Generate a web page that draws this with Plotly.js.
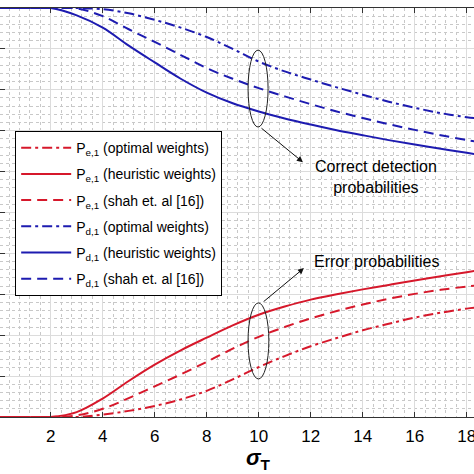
<!DOCTYPE html>
<html>
<head>
<meta charset="utf-8">
<script src="https://cdn.plot.ly/plotly-3.0.1.min.js"></script>
<style>html,body{margin:0;padding:0;background:#fff;}#chart{width:474px;height:474px;}</style>
</head>
<body>
<div id="chart"></div>
<script>
// sigma_T values
const sigmaT = [0,1,2,3,4,5,6,7,8,9,10,11,12,13,14,15,16,17,18,18.3];
// Error probabilities P_e,1
const peOptimal   = [0,0,0,0,0.006,0.015,0.027,0.043,0.064,0.092,0.122,0.149,0.173,0.193,0.212,0.228,0.243,0.255,0.265,0.267];
const peHeuristic = [0,0,0,0.012,0.045,0.088,0.128,0.163,0.194,0.224,0.25,0.27,0.287,0.30,0.312,0.323,0.334,0.344,0.354,0.357];
const peShah      = [0,0,0,0.004,0.02,0.046,0.075,0.104,0.135,0.167,0.196,0.22,0.241,0.259,0.275,0.289,0.301,0.311,0.319,0.321];
// Correct detection probabilities P_d,1
const pdOptimal   = [1,1,1,1,0.997,0.987,0.971,0.952,0.929,0.9,0.869,0.845,0.825,0.806,0.788,0.771,0.756,0.743,0.733,0.731];
const pdHeuristic = [1,1,1,0.982,0.952,0.908,0.867,0.827,0.793,0.767,0.747,0.73,0.715,0.701,0.689,0.677,0.666,0.656,0.646,0.643];
const pdShah      = [1,1,1,0.999,0.98,0.948,0.917,0.885,0.853,0.827,0.804,0.784,0.765,0.747,0.731,0.716,0.702,0.689,0.677,0.674];
const seriesNames = [
  'P<sub>e,1</sub> (optimal weights)',
  'P<sub>e,1</sub> (heuristic weights)',
  'P<sub>e,1</sub> (shah et. al [16])',
  'P<sub>d,1</sub> (optimal weights)',
  'P<sub>d,1</sub> (heuristic weights)',
  'P<sub>d,1</sub> (shah et. al [16])'
];
const xAxisTitle = '<b><i>σ</i><sub>T</sub></b>';

const RED = '#d6182b', BLUE = '#1d1bb0';
const DASHDOT = '10px,4px,3px,4px', DASH = '10px,6px';
function tr(y, name, color, dash, g){
  return {x: sigmaT, y: y, name: name, legendgroup: g, type:'scatter', mode:'lines',
    line:{color: color, width: 2, dash: dash, shape:'spline', smoothing:1}};
}
const data = [
  tr(peOptimal, seriesNames[0], RED, DASHDOT, 'a'),
  tr(peHeuristic, seriesNames[1], RED, 'solid', 'b'),
  tr(peShah, seriesNames[2], RED, DASH, 'c'),
  tr(pdOptimal, seriesNames[3], BLUE, DASHDOT, 'd'),
  tr(pdHeuristic, seriesNames[4], BLUE, 'solid', 'e'),
  tr(pdShah, seriesNames[5], BLUE, DASH, 'f')
];
const FONT = 'Liberation Sans, Arial, Helvetica, sans-serif';
const layout = {
  width: 474, height: 474,
  margin: {l: 0, r: 0, t: 8, b: 57},
  paper_bgcolor: '#fff', plot_bgcolor: '#fff',
  font: {family: FONT, color: '#000', size: 16},
  showlegend: true,
  legend: {x: 0.032, y: 0.699, xanchor: 'left', yanchor: 'top',
    bgcolor: '#fff', bordercolor: '#000', borderwidth: 1, itemwidth: 50,
    traceorder: 'grouped', tracegroupgap: 5,
    font: {family: FONT, size: 14, color: '#000'}},
  xaxis: {range: [0.05, 18.28], dtick: 2, tick0: 0,
    showline: true, linecolor: '#333', linewidth: 1, mirror: 'ticks',
    ticks: 'inside', ticklen: 5, tickcolor: '#333',
    showgrid: true, gridcolor: '#dcdcdc', gridwidth: 1, zeroline: false,
    ticklabeloverflow: 'allow', ticklabelstandoff: 4,
    tickfont: {family: FONT, size: 17, color: '#000'},
    minor: {dtick: 0.4, showgrid: true, gridcolor: '#c8c8c8', griddash: 'dot', gridwidth: 1, ticks: ''}
  },
  yaxis: {range: [0, 1], dtick: 0.1, showline: false,
    ticks: 'inside', ticklen: 5, tickcolor: '#333', showticklabels: false,
    showgrid: true, gridcolor: '#dcdcdc', gridwidth: 1, zeroline: false,
    minor: {dtick: 0.02, showgrid: true, gridcolor: '#c8c8c8', griddash: 'dot', gridwidth: 1, ticks: ''}
  },
  shapes: [
    {type: 'circle', xref: 'x', yref: 'y', x0: 9.59, x1: 10.36, y0: 0.709, y1: 0.897, line: {color: '#222', width: 1}},
    {type: 'circle', xref: 'x', yref: 'y', x0: 9.59, x1: 10.39, y0: 0.093, y1: 0.279, line: {color: '#222', width: 1}}
  ],
  annotations: [
    {x: 11.7, y: 0.623, ax: 10.05, ay: 0.709, axref: 'x', ayref: 'y', xref: 'x', yref: 'y',
      showarrow: true, arrowhead: 2, arrowsize: 1.2, arrowwidth: 1, arrowcolor: '#111', text: ''},
    {x: 11.74, y: 0.364, ax: 10.13, ay: 0.279, axref: 'x', ayref: 'y', xref: 'x', yref: 'y',
      showarrow: true, arrowhead: 2, arrowsize: 1.2, arrowwidth: 1, arrowcolor: '#111', text: ''},
    {x: 14.51, y: 0.587, xref: 'x', yref: 'y', showarrow: false, align: 'center',
      text: 'Correct detection<br>probabilities', font: {family: FONT, size: 16, color: '#000'}},
    {x: 12.05, y: 0.379, xref: 'x', yref: 'y', xanchor: 'left', showarrow: false,
      text: 'Error probabilities', font: {family: FONT, size: 16, color: '#000'}},
    {x: 10, y: -0.102, xref: 'x', yref: 'paper', yanchor: 'middle', showarrow: false,
      text: xAxisTitle, font: {family: FONT, size: 22, color: '#000'}}
  ]
};
Plotly.newPlot('chart', data, layout, {displayModeBar: false, staticPlot: true});
</script>
</body>
</html>
